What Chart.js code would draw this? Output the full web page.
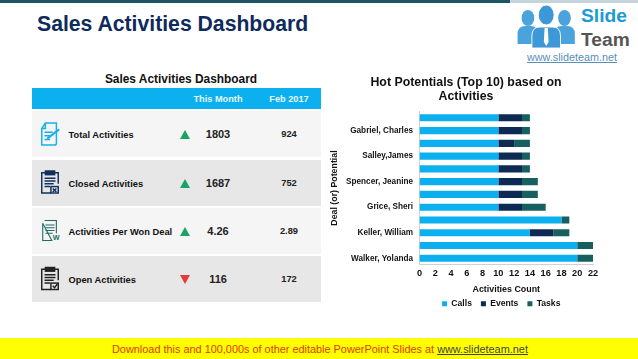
<!DOCTYPE html>
<html><head><meta charset="utf-8">
<style>
html,body{margin:0;padding:0;background:#fff;}
body{width:638px;height:359px;position:relative;overflow:hidden;font-family:"Liberation Sans",Arial,sans-serif;color:#111;}
.abs{position:absolute;white-space:nowrap;}
.b{font-weight:700;}
.row{position:absolute;left:32px;width:289px;height:46px;}
.m{transform:translateY(-50%);}
.cm{transform:translate(-50%,-50%);}
.tri{position:absolute;width:0;height:0;border-left:5px solid transparent;border-right:5px solid transparent;}
#wrap{position:absolute;left:325px;top:70px;width:278px;height:248px;}
</style></head><body>
<div class="abs" style="left:0;top:0;width:510px;height:3px;background:#1c5566"></div>
<div class="abs" style="left:510px;top:0;width:128px;height:3px;background:#c5d3dc"></div>
<div class="abs b" style="left:37px;top:12px;font-size:21.2px;color:#0f2a5c">Sales Activities Dashboard</div>
<div class="abs b cm" style="left:181px;top:79px;font-size:11.9px">Sales Activities Dashboard</div>
<div class="abs" style="left:32px;top:88px;width:289px;height:21px;background:#0cb0ee"></div>
<div class="abs b cm" style="left:218px;top:99px;font-size:9.2px;color:#e6f7ff">This Month</div>
<div class="abs b cm" style="left:289px;top:99px;font-size:9.2px;color:#e6f7ff">Feb 2017</div>
<div class="row" style="top:111px;background:#f5f5f5"></div>
<div class="row" style="top:160px;background:#e7e7e7"></div>
<div class="row" style="top:208px;background:#f5f5f5"></div>
<div class="row" style="top:256px;background:#e7e7e7"></div>
<div id="rows"></div>
<svg class="abs" style="left:39px;top:121px" width="22" height="26" viewBox="0 0 24 28" fill="none" stroke="#19b0e8" stroke-width="1.6"><path d="M7 2H19V24Q19 26 17 26H3V8Z"/><path d="M7 2V8H3"/><path d="M6 12H15M6 16H13M6 20H12"/><path d="M9 19L22 9" stroke-width="2.2"/></svg>
<svg class="abs" style="left:39px;top:168px" width="22" height="28" viewBox="0 0 24 28" fill="none" stroke="#12305c" stroke-width="1.6"><path d="M7 4H3V26H13M17 4H21V16"/><rect x="7" y="2" width="10" height="4" fill="#12305c"/><path d="M6 10H18M6 13H18M6 16H16M6 19H12"/><rect x="13" y="19" width="8" height="7"/><path d="M15 21L19 25M19 21L15 25"/></svg>
<svg class="abs" style="left:40px;top:218px" width="20" height="25" viewBox="0 0 22 26" fill="none" stroke="#1f6b66" stroke-width="1.2"><path d="M5 2H18V16M13 24H3V5Z"/><path d="M6 7H16M6 10H16M6 13H16M6 16H14"/><text x="14" y="24" font-size="8" font-weight="700" fill="#1f6b66" stroke="none" font-family="Liberation Sans">W</text></svg>
<svg class="abs" style="left:39px;top:265px" width="22" height="27" viewBox="0 0 24 28" fill="none" stroke="#222" stroke-width="1.6"><path d="M7 4H3V26H13M17 4H21V16"/><rect x="7" y="2" width="10" height="4" fill="#222"/><path d="M6 10H18M6 13H18M6 16H16M6 19H12"/><rect x="13" y="19" width="8" height="7"/><path d="M15 22L17 24L20 20"/></svg>
<div id="wrap"><canvas id="chart" width="278" height="248"></canvas></div>
<svg class="abs" style="left:516px;top:4px" width="62" height="44" viewBox="0 0 78 44" preserveAspectRatio="none">
<g fill="#4aa3dc"><circle cx="15" cy="14" r="8"/><circle cx="61" cy="14" r="8"/><path d="M2 40V30Q2 22 12 22H18Q28 22 28 30V40Z"/><path d="M48 40V30Q48 22 58 22H64Q74 22 74 30V40Z"/></g>
<g fill="#3e97d6" stroke="#fff" stroke-width="1"><circle cx="38" cy="11" r="10"/><path d="M20 44V32Q20 23 30 23H46Q56 23 56 32V44Z"/></g>
<path d="M36 24H40L41 38L38 42L35 38Z" fill="#fff"/></svg>
<div class="abs b m" style="left:581px;top:16px;font-size:19.2px;color:#1b9ad6">Slide</div>
<div class="abs b m" style="left:581px;top:40px;font-size:19.2px;color:#555">Team</div>
<div class="abs m" style="left:527px;top:57px;font-size:10.8px;color:#5a8fb8;text-decoration:underline">www.slideteam.net</div>
<div class="abs" style="left:0;top:338px;width:638px;height:21px;background:#ffff00"></div>
<div class="abs m" style="left:112px;top:349px;font-size:10.9px;color:#e03a00">Download this and 100,000s of other editable PowerPoint Slides at <span style="color:#444;text-decoration:underline">www.slideteam.net</span></div>
<script src="https://cdn.jsdelivr.net/npm/chart.js@4"></script>
<script>
const chartTitle = ["Hot Potentials (Top 10) based on", "Activities"];
const categories = ["", "Gabriel, Charles", "", "Salley,James", "", "Spencer, Jeanine", "", "Grice, Sheri", "", "Keller, William", "", "Walker, Yolanda"];
const calls  = [10,10,10,10,10,10,10,10,18,14,20,20];
const events = [3,3,2,3,3,3,3,3,0,3,0,0];
const tasks  = [1,1,2,1,1,2,2,3,1,2,2,2];
const xTicks = [0,2,4,6,8,10,12,14,16,18,20,22];
const tableLabels = ["Total Activities","Closed Activities","Activities Per Won Deal","Open Activities"];
const thisMonth = ["1803","1687","4.26","116"];
const feb2017 = ["924","752","2.89","172"];
const trend = ["up","up","up","down"];

const rowY = [134,183,231,279];
const rows = document.getElementById('rows');
tableLabels.forEach((t,i)=>{
  const y = rowY[i];
  rows.insertAdjacentHTML('beforeend',
   `<div class="abs b m" style="left:68.5px;top:${y+1}px;font-size:9.3px">${t}</div>`+
   `<div class="tri" style="left:180px;top:${y-4}px;${trend[i]==='up'?'border-bottom:9px solid #17a561':'border-top:9px solid #e23b3b'}"></div>`+
   `<div class="abs b cm" style="left:218px;top:${y}px;font-size:11px;color:#222">${thisMonth[i]}</div>`+
   `<div class="abs b cm" style="left:289px;top:${y}px;font-size:9.3px;color:#222">${feb2017[i]}</div>`);
});

const font = {family:'"Liberation Sans", Arial, sans-serif', weight:'700'};
const nudgeLegend = {id:'nudgeLegend',afterLayout(c){c.legend.left-=5;c.legend.right-=5;}};
new Chart(document.getElementById('chart'),{
  type:'bar',
  plugins:[nudgeLegend],
  data:{labels:categories,datasets:[
    {label:'Calls',data:calls,backgroundColor:'#0cb0ee'},
    {label:'Events',data:events,backgroundColor:'#0d2a55'},
    {label:'Tasks',data:tasks,backgroundColor:'#17605f'}
  ]},
  options:{
    indexAxis:'y',responsive:false,animation:false,
    layout:{padding:{left:4,right:0,top:2,bottom:0}},
    datasets:{bar:{barPercentage:0.56,categoryPercentage:1}},
    scales:{
      x:{stacked:true,min:0,max:22,afterBuildTicks(a){a.ticks=xTicks.map(v=>({value:v}));},
        grid:{display:false,drawTicks:false},border:{display:true,color:'#d0d0d0'},
        ticks:{color:'#111',font:{...font,size:9.2},padding:3,maxRotation:0,autoSkip:false},
        title:{display:true,text:'Activities Count',color:'#111',font:{...font,size:8.9},padding:{top:2,bottom:-4}}},
      y:{stacked:true,grid:{display:false,drawTicks:false},border:{display:true,color:'#d0d0d0'},
        ticks:{color:'#111',font:{...font,size:8.2},padding:6.5,autoSkip:false},
        afterFit(s){s.width=90.5;},
        title:{display:true,text:'Deal (or) Potential',color:'#111',font:{...font,size:8.8},padding:{top:0,bottom:0}}},
      yr:{axis:'y',type:'linear',position:'right',display:true,
        grid:{display:false,drawTicks:false},border:{display:false},ticks:{display:false},
        afterFit(s){s.width=10;}}
    },
    plugins:{
      title:{display:true,text:chartTitle,color:'#111',font:{...font,size:12.35,lineHeight:1.15},padding:{top:3,bottom:8}},
      legend:{position:'bottom',fullSize:false,labels:{color:'#111',font:{...font,size:8.6},boxWidth:5,boxHeight:5,padding:9}},
      tooltip:{enabled:false}
    }
  }
});
</script>
</body></html>
